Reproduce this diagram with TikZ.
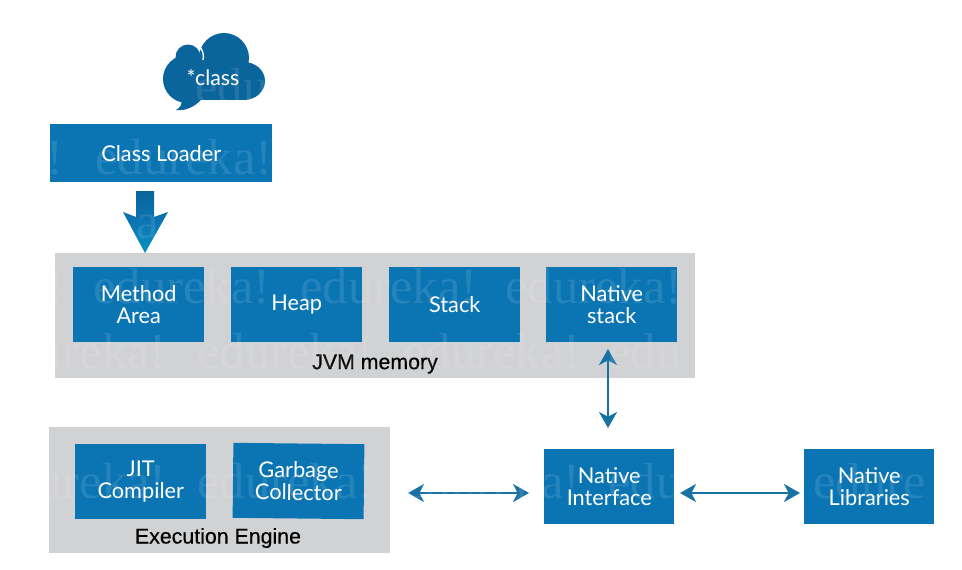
\documentclass[tikz,border=0pt]{standalone}
\usepackage{fontspec}
\setmainfont{Lato}
\newfontfamily\wmfont{Liberation Serif}
\newfontfamily\lblfont[FakeBold=0.35]{Liberation Sans}
\usetikzlibrary{arrows.meta}
\definecolor{boxblue}{HTML}{0B75B3}
\definecolor{cloudblue}{HTML}{0A659C}
\definecolor{arrowblue}{HTML}{1871A3}
\definecolor{panelgray}{HTML}{D1D2D4}
\tikzset{
  panel/.style={fill=panelgray,draw=none,inner sep=0pt,anchor=north west},
  bluebox/.style={fill=boxblue,draw=none,inner sep=0pt,anchor=north west,text=white,align=center,
    font=\fontsize{16.3pt}{16.8pt}\selectfont},
  paneltitle/.style={text=black,inner sep=0pt,font=\lblfont\fontsize{16pt}{18pt}\selectfont},
  wm/.style={text=white,text opacity=0.11,inner sep=0pt,anchor=base west,font=\wmfont\fontsize{38pt}{38pt}\selectfont},
  wmr/.style={wm,anchor=base east},
  biarrow/.style={draw=arrowblue,line width=1.4pt,{Stealth[length=12pt,width=13.5pt,inset=3.5pt]}-{Stealth[length=12pt,width=13.5pt,inset=3.5pt]}}
}
\begin{document}
\begin{tikzpicture}[x=0.75pt,y=-0.75pt]
\useasboundingbox (0,0) rectangle (962,569);
% panels
\node[panel,minimum width=640*0.75pt,minimum height=125*0.75pt] (jvm) at (55,253) {};
\node[panel,minimum width=341*0.75pt,minimum height=126*0.75pt] (exec) at (49,427) {};
% cloud
\begin{scope}[fill=cloudblue]
  \fill (187,79) circle [radius=24];
  \fill (188,57) circle [radius=12.5];
  \fill (224,58) circle [radius=25];
  \fill (244,81) ellipse [x radius=21,y radius=19];
  \fill (187,65) rectangle (245,100);
  \fill (181,98) .. controls (183,104) and (180,108) .. (176,110) .. controls (186,111) and (194,107) .. (201,100) -- cycle;
\end{scope}
\draw[white,line width=1pt] (199,46) .. controls (203,50) and (204,55) .. (203,60);
\node[text=white,inner sep=0pt,font=\fontsize{16pt}{18pt}\selectfont] (cloudtxt) at (213,78) {*class};
% boxes
\node[bluebox,minimum width=222*0.75pt,minimum height=58*0.75pt] (loader) at (50,124) {\raisebox{-1.5pt}{Class Loader}};
\node[bluebox,minimum width=131*0.75pt,minimum height=75*0.75pt] (method) at (73,267) {Method\\Area};
\node[bluebox,minimum width=131*0.75pt,minimum height=75*0.75pt] (heap) at (231,267) {\raisebox{-0.7pt}{Heap}};
\node[bluebox,minimum width=131*0.75pt,minimum height=75*0.75pt] (stack) at (389,267) {Stack};
\node[bluebox,minimum width=131*0.75pt,minimum height=75*0.75pt] (nstack) at (546,267) {Native\\stack};
\node[bluebox,minimum width=131*0.75pt,minimum height=75*0.75pt] (jit) at (75,444) {JIT\\Compiler};
\node[bluebox,anchor=center,rotate=-0.6,minimum width=131*0.75pt,minimum height=75*0.75pt] (gc) at (298.5,481) {Garbage\\Collector};
\node[bluebox,minimum width=130*0.75pt,minimum height=75*0.75pt] (nint) at (544,449) {Native\\Interface};
\node[bluebox,minimum width=130*0.75pt,minimum height=75*0.75pt] (nlib) at (804,449) {Native\\Libraries};
% panel titles
\node[paneltitle] (jvmtitle) at (375,364) {JVM memory};
\node[paneltitle] (exectitle) at (218,538) {Execution Engine};
% big arrow
\coordinate (bigtop) at (145,191);
\coordinate (bigtip) at (145,253);
\shade[top color=cloudblue,bottom color=boxblue!80!cyan,middle color=boxblue]
  (136,191) -- (154,191) -- (154,217) -- (168,212) -- (bigtip) -- (123,212) -- (136,217) -- cycle;
% connectors
\coordinate (vtop) at (608,349);
\coordinate (vbot) at (608,428);
\coordinate (hl) at (408,493);
\coordinate (hr) at (529,493);
\coordinate (hl2) at (680,493);
\coordinate (hr2) at (800,493);
\draw[biarrow] (vtop) -- (vbot);
\draw[biarrow] (hl) -- (hr);
\draw[biarrow] (hl2) -- (hr2);
% watermark
\node[wm] (w1) at (195,103) {edu};
\node[wm] (w2) at (95,174) {edureka!};
\node[wmr] (w3) at (64,174) {!};
\node[wm] (w4) at (136,238) {a};
\node[wmr] (w5) at (65,303) {!};
\node[wm] (w6) at (93,303) {edureka!};
\node[wm] (w7) at (300,303) {edureka!};
\node[wm] (w8) at (505,303) {edureka!};
\node[wmr] (w9) at (167,368) {ureka!};
\node[wm] (w10) at (197,368) {edureka!};
\node[wm] (w11) at (403,368) {edureka!};
\node[wm] (w12) at (608,368) {edu};
\node[wmr] (w13) at (167,498) {ureka!};
\node[wm] (w14) at (197,498) {edureka!};
\node[wm] (w15) at (403,498) {edureka!};
\node[wm] (w16) at (608,498) {edu};
\node[wm] (w17) at (813,498) {edure};
\end{tikzpicture}
\end{document}
